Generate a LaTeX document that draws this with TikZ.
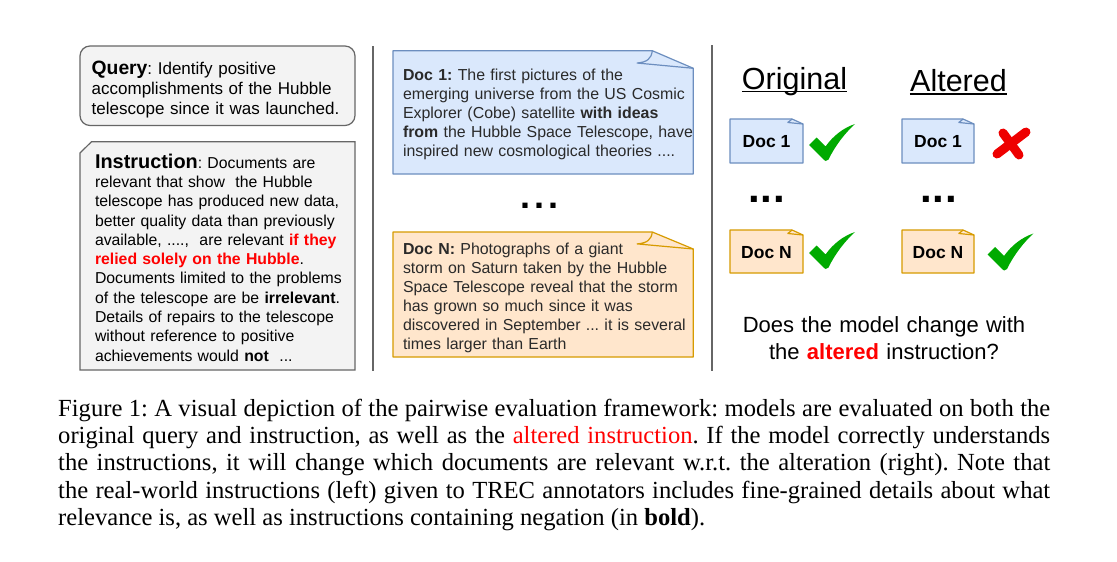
\documentclass[tikz,border=0pt]{standalone}
\usepackage{fontspec}
\setmainfont{Liberation Sans}
\newfontfamily\capfont{Liberation Serif}
\definecolor{boxfill}{HTML}{F3F3F3}
\definecolor{boxdraw}{HTML}{666666}
\definecolor{bluefill}{HTML}{DAE8FC}
\definecolor{bluedraw}{HTML}{6C8EBF}
\definecolor{orfill}{HTML}{FFE6CC}
\definecolor{ordraw}{HTML}{D79B00}
\definecolor{chkgreen}{HTML}{00AA00}
\definecolor{xred}{HTML}{EE0000}
\definecolor{doctext}{HTML}{2A2A2A}
\newcommand\docshape[7]{%
  \path[#1] (#2,#3) -- ({#4-#6},#3) -- (#4,{#3+#7}) -- (#4,#5) -- (#2,#5) -- cycle;
  \path[#1,fill=none] ({#4-#6},#3) .. controls ({#4-#6-1},{#3+0.45*#7}) and ({#4-#6-5},{#3+0.65*#7}) .. ({#4-1.37*#6},{#3+0.7*#7}) -- (#4,{#3+#7});}
\newcommand\chkmark[2]{%
  \begin{scope}[shift={(#1,#2)}]
  \fill[chkgreen] (0,21) -- (7.5,13.5) -- (16.5,22.5) .. controls (24,12) and (34,4) .. (46,0)
     .. controls (36,9) and (26,22) .. (19.5,35.5) .. controls (17.5,37.5) and (15.5,37.5) .. (14.5,35.5) -- cycle;
  \end{scope}}
\begin{document}
\frenchspacing
\begin{tikzpicture}[x=1pt,y=-1pt,
  txt/.style={inner sep=0pt,outer sep=0pt,anchor=base west,align=left,text width=330pt},
  graybox/.style={fill=boxfill,draw=boxdraw,line width=1.2pt},
  bluedoc/.style={fill=bluefill,draw=bluedraw,line width=1.2pt,line join=round},
  ordoc/.style={fill=orfill,draw=ordraw,line width=1.2pt,line join=round},
  sep/.style={draw=boxdraw,line width=1.8pt},
  smalllabel/.style={inner sep=0pt,anchor=base,font=\fontsize{17.5}{20}\selectfont\bfseries},
  dots/.style={inner sep=0pt,anchor=base},
  heading/.style={inner sep=0pt,anchor=base,font=\fontsize{30.5}{34}\selectfont}]
\useasboundingbox (0,0) rectangle (1117,562);
\fill[white] (0,0) rectangle (1117,562);

% left column
\path[graybox,rounded corners=10pt] (80,46) rectangle (355,125.5);
\node[txt,font=\fontsize{17}{20}\selectfont] (query) at (91.7,74.3)
 {{\fontsize{19.3}{20}\selectfont\bfseries Query}: Identify positive\\
  accomplishments of the Hubble\\
  telescope since it was launched.};

\path[graybox] (80,153) -- (91.5,141.7) -- (355,141.7) -- (355,370) -- (80,370) -- cycle;
\node[txt,font=\fontsize{15.8}{19.27}\selectfont] (instr) at (95,168.3)
 {{\fontsize{19.9}{20}\selectfont\bfseries Instruction}: Documents are\\
  relevant that show~~the Hubble\\
  telescope has produced new data,\\
  better quality data than previously\\
  available, ...., ~are relevant {\color{red}\bfseries if they}\\
  {\color{red}\bfseries relied solely on the Hubble}.\\
  Documents limited to the problems\\
  of the telescope are be \textbf{irrelevant}.\\
  Details of repairs to the telescope\\
  without reference to positive\\
  achievements would \textbf{not} ~...};

\coordinate (s1a) at (373.3,46);
\coordinate (s1b) at (373.3,371);
\draw[sep] (s1a) -- (s1b);

% middle column
\docshape{bluedoc}{393}{50.7}{693.3}{174}{41}{17.6}
\node[txt,font=\fontsize{15.9}{19.2}\selectfont,text=doctext] (doc1) at (403,80)
 {\textbf{Doc 1:} The first pictures of the\\
  emerging universe from the US Cosmic\\
  Explorer (Cobe) satellite \textbf{with ideas}\\
  \textbf{from} the Hubble Space Telescope, have\\
  inspired new cosmological theories ....};

\node[dots,font=\fontsize{36}{36}\selectfont\bfseries] (mdots) at (539.5,208.5) {.\kern4pt.\kern4pt.};

\docshape{ordoc}{393}{232}{693.3}{357}{41}{17}
\node[txt,font=\fontsize{15.9}{19.07}\selectfont,text=doctext] (docn) at (403,254)
 {\textbf{Doc N:} Photographs of a giant\\
  storm on Saturn taken by the Hubble\\
  Space Telescope reveal that the storm\\
  has grown so much since it was\\
  discovered in September ... it is several\\
  times larger than Earth};

\coordinate (s2a) at (711.7,45);
\coordinate (s2b) at (711.7,371);
\draw[sep] (s2a) -- (s2b);

% right column
\node[heading] (orig) at (794.5,89.3) {Original};
\draw[line width=1.6pt] ([yshift=-2.3pt]orig.base west) -- ([yshift=-2.3pt]orig.base east);
\node[heading] (alt) at (958.5,91.7) {Altered};
\draw[line width=1.6pt] ([yshift=-2.3pt]alt.base west) -- ([yshift=-2.3pt]alt.base east);

\docshape{bluedoc}{730}{119}{803}{163}{11}{5}
\node[smalllabel] (od1) at (766.5,147.3) {Doc 1};
\chkmark{809}{124}
\node[dots,font=\fontsize{42}{42}\selectfont\bfseries] (odots) at (766.5,202) {.\kern1pt.\kern1pt.};
\docshape{ordoc}{730}{230}{803}{273}{11}{5}
\node[smalllabel] (odn) at (766.5,258.3) {Doc N};
\chkmark{809}{232}

\docshape{bluedoc}{902}{119}{974}{163}{11}{5}
\node[smalllabel] (ad1) at (938,147.3) {Doc 1};
\draw[xred,line width=9pt,line cap=round] (1003,133) -- (1019,155);
\draw[xred,line width=9pt,line cap=round] (1026,132) -- (997,154);
\node[dots,font=\fontsize{42}{42}\selectfont\bfseries] (adots) at (938.5,202) {.\kern1pt.\kern1pt.};
\docshape{ordoc}{902}{230}{974}{273}{11}{5}
\node[smalllabel] (adn) at (938,258.3) {Doc N};
\chkmark{987.5}{233.5}

\node[inner sep=0pt,anchor=base,align=center,text width=330pt,font=\fontsize{22}{27}\selectfont] (question) at (884,332)
 {Does the model change with\\ the {\color{red}\bfseries altered} instruction?};

% caption
\node[inner sep=0pt,anchor=base west,align=justify,text width=992pt,font=\capfont\fontsize{24.6}{27.1}\selectfont] (caption) at (58,416.7)
 {Figure 1: A visual depiction of the pairwise evaluation framework: models are evaluated on both the\linebreak
  original query and instruction, as well as the {\color{red}altered instruction}. If the model correctly understands\linebreak
  the instructions, it will change which documents are relevant w.r.t.\ the alteration (right). Note that\linebreak
  the real-world instructions (left) given to TREC annotators includes fine-grained details about what\linebreak
  relevance is, as well as instructions containing negation (in \textbf{bold}).};
\end{tikzpicture}
\end{document}
